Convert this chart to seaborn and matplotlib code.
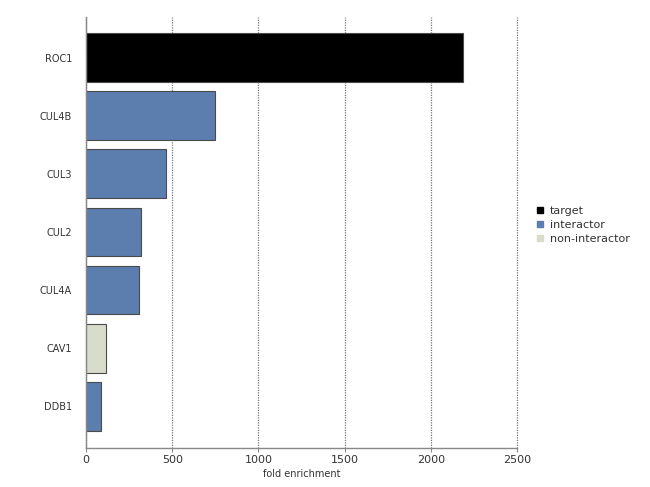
import numpy as np
import pandas as pd
import matplotlib
matplotlib.use('Agg')
import matplotlib.pyplot as plt
import seaborn as sns

# data
genes = ['ROC1', 'CUL4B', 'CUL3', 'CUL2', 'CUL4A', 'CAV1', 'DDB1']
fold = [2185, 748, 465, 320, 308, 117, 88]
kind = ['target', 'interactor', 'interactor', 'interactor', 'interactor',
        'non-interactor', 'interactor']
kinds = ['target', 'interactor', 'non-interactor']
colors = {'target': '#000000', 'interactor': '#5b7eaf', 'non-interactor': '#d8dccb'}

df = pd.DataFrame({'gene': genes, 'fold': fold, 'kind': kind})

sns.set_style('white')
plt.rcParams['font.family'] = ['DejaVu Sans']

fig = plt.figure(figsize=(6.5, 4.87), dpi=100)
ax = fig.add_axes([0.1323, 0.080, 0.6631, 0.885])

sns.barplot(df, x='fold', y='gene', hue='kind', hue_order=kinds, palette=colors,
            orient='h', dodge=False, width=0.84, edgecolor='#4a4a4a', linewidth=0.8,
            saturation=1, ax=ax, legend=False)

ax.set_xlim(0, 2500)
ax.set_ylim(6.72, -0.7)
ax.set_xticks([0, 500, 1000, 1500, 2000, 2500])
ax.xaxis.grid(True, linestyle=(0, (1, 1)), color='#777777', linewidth=0.9)
for gl in ax.get_xgridlines():
    gl.set_clip_on(False)
ax.set_axisbelow(True)
for s in ['top', 'right']:
    ax.spines[s].set_visible(False)
for s in ['left', 'bottom']:
    ax.spines[s].set_color('#888888')
    ax.spines[s].set_linewidth(1.0)
ax.tick_params(axis='x', length=3, color='#888888', labelsize=8, labelcolor='#333333', pad=2, bottom=True)
ax.tick_params(axis='y', length=0, labelsize=7, labelcolor='#333333', pad=10)
ax.set_xlabel('fold enrichment', fontsize=7, color='#333333', labelpad=3)
ax.set_ylabel('')

handles = [plt.Line2D([], [], marker='s', linestyle='', markersize=4,
                      markerfacecolor=colors[k], markeredgecolor=colors[k]) for k in kinds]
fig.legend(handles, kinds, loc='center left', bbox_to_anchor=(0.81, 0.538), frameon=False,
           fontsize=8, handlelength=0.6, handletextpad=0.6, labelspacing=0.35,
           labelcolor='#333333')

fig.savefig('out.png', dpi=100)
